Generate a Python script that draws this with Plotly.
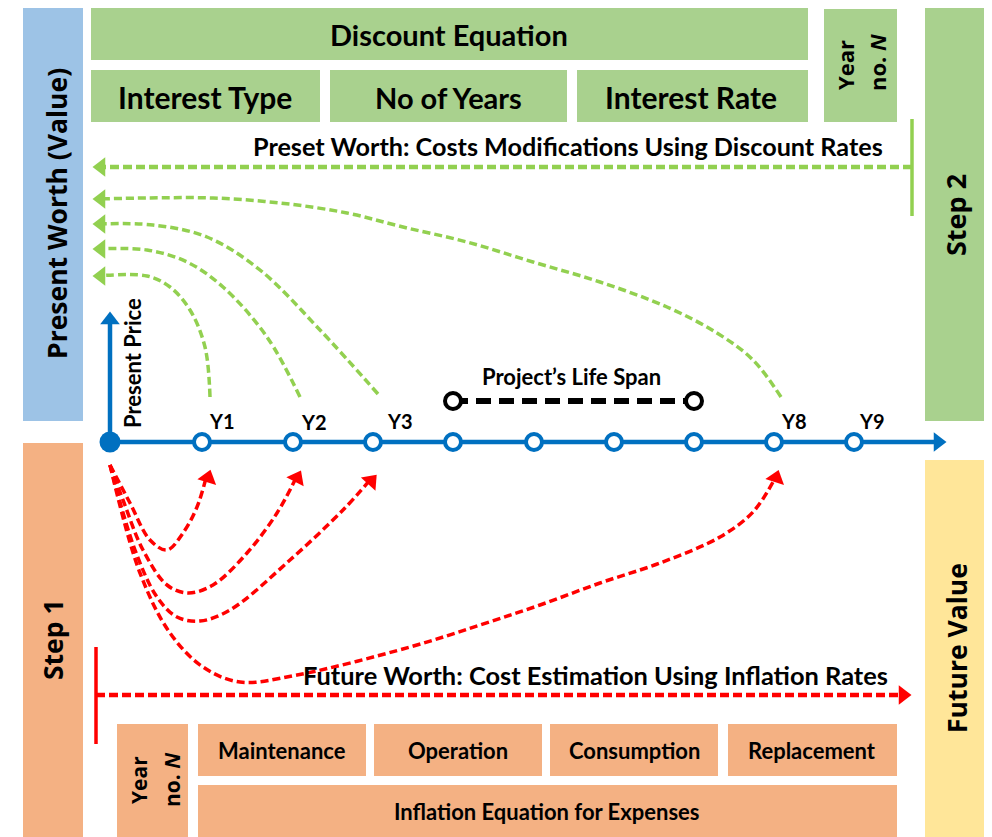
# %%
import plotly.graph_objects as go

# %% DATA
top_boxes = ['Discount Equation', 'Interest Type', 'No of Years', 'Interest Rate']
bottom_boxes = ['Maintenance', 'Operation', 'Consumption', 'Replacement', 'Inflation Equation for Expenses']
year_labels = ['Y1', 'Y2', 'Y3', 'Y8', 'Y9']

timeline_x = [202, 293, 373, 453, 534, 614, 694, 774, 854]

green_y1_x = [210, 205, 190, 170, 147, 97]
green_y1_y = [397, 347, 310, 287, 276, 276]
green_y2_x = [300, 267, 223, 187, 147, 97]
green_y2_y = [397, 337, 287, 262, 250, 249]
green_y3_x = [378, 320, 260, 207, 153, 97]
green_y3_y = [394, 330, 270, 237, 225, 224]
green_y8_x = [781, 753, 717, 667, 600, 533, 467, 403, 347, 280, 213, 147, 97]
green_y8_y = [397, 360, 333, 307, 282, 262, 242, 227, 213, 203, 198, 198, 199]

red_y1_x = [110, 130, 150, 167, 183, 197, 206]
red_y1_y = [465, 503, 540, 550, 533, 507, 478]
red_y2_x = [110, 123, 143, 167, 188, 213, 247, 277, 296]
red_y2_y = [465, 500, 550, 585, 593, 585, 553, 513, 478]
red_y3_x = [110, 135, 157, 177, 200, 230, 290, 343, 370]
red_y3_y = [465, 550, 597, 617, 621, 610, 560, 510, 480]
red_y8_x = [110, 140, 170, 203, 240, 297, 410, 480, 540, 600, 660, 720, 753, 773]
red_y8_y = [465, 573, 633, 667, 682, 675, 647, 625, 605, 583, 563, 537, 512, 482]

GREEN_BOX = '#A9D18E'
BLUE_BOX = '#9DC3E6'
ORANGE_BOX = '#F4B183'
YELLOW_BOX = '#FFE699'
LINE_BLUE = '#0070C0'
LINE_GREEN = '#92D050'
LINE_RED = '#FF0000'

fig = go.Figure()


def box(x0, y0, x1, y1, color):
    fig.add_shape(type='rect', x0=x0, y0=y0, x1=x1, y1=y1, fillcolor=color, line_width=0, layer='below')


def label(x, y, text, size, angle=0, family='Lato'):
    fig.add_annotation(x=x, y=y, text='<b>' + text + '</b>', textangle=angle, showarrow=False,
                       font=dict(family=family, size=size, color='black'))


def curve(xs, ys, color, width=3.5, dash='8px,4px', shape='spline'):
    fig.add_trace(go.Scatter(x=xs, y=ys, mode='lines', hoverinfo='skip',
                             line=dict(color=color, width=width, dash=dash, shape=shape, smoothing=1)))


def head(x, y, angle, color, size=17):
    fig.add_trace(go.Scatter(x=[x], y=[y], mode='markers', hoverinfo='skip',
                             marker=dict(symbol='triangle-up', size=size, angle=angle, color=color, line_width=0)))


# %% BOXES
box(23, 8, 83, 421, BLUE_BOX)
box(925, 8, 985, 421, GREEN_BOX)
box(23, 443, 83, 837, ORANGE_BOX)
box(925, 460, 985, 837, YELLOW_BOX)

box(91, 8, 808, 60, GREEN_BOX)
box(91, 70, 320, 122, GREEN_BOX)
box(330, 70, 567, 122, GREEN_BOX)
box(577, 70, 808, 122, GREEN_BOX)
box(824, 9, 897, 122, GREEN_BOX)

box(117, 724, 188, 837, ORANGE_BOX)
box(198, 724, 366, 776, ORANGE_BOX)
box(374, 724, 542, 776, ORANGE_BOX)
box(550, 724, 718, 776, ORANGE_BOX)
box(728, 724, 897, 776, ORANGE_BOX)
box(198, 785, 897, 837, ORANGE_BOX)

# %% BOX TEXT
label(449, 34, top_boxes[0], 29)
label(205, 97, top_boxes[1], 30)
label(448, 97, top_boxes[2], 29)
label(691, 97, top_boxes[3], 30)
label(845, 65, 'Year', 22, -90, 'Open Sans')
label(877, 63, 'no. <i>N</i>', 22, -90, 'Open Sans')

label(282, 750, bottom_boxes[0], 22)
label(458, 750, bottom_boxes[1], 22)
label(634, 750, bottom_boxes[2], 22)
label(812, 750, bottom_boxes[3], 22)
label(547, 811, bottom_boxes[4], 22)
label(139, 780, 'Year', 21, -90, 'Open Sans')
label(172, 780, 'no. <i>N</i>', 21, -90, 'Open Sans')

label(57, 214, 'Present Worth (Value)', 26.5, -90, 'Open Sans')
label(955, 215, 'Step 2', 27, -90, 'Open Sans')
label(53, 640, 'Step 1', 26.5, -90, 'Open Sans')
label(957, 648, 'Future Value', 26.5, -90, 'Open Sans')

# %% GREEN SIDE
curve([912, 912], [119, 216], LINE_GREEN, dash='solid', shape='linear')
curve([912, 100], [167, 167], LINE_GREEN, width=4.5, dash='9px,4px', shape='linear')
head(101, 167, -90, LINE_GREEN)
curve(green_y1_x, green_y1_y, LINE_GREEN)
curve(green_y2_x, green_y2_y, LINE_GREEN)
curve(green_y3_x, green_y3_y, LINE_GREEN)
curve(green_y8_x, green_y8_y, LINE_GREEN)
head(101, 276, -90, LINE_GREEN)
head(101, 249, -90, LINE_GREEN)
head(101, 224, -90, LINE_GREEN)
head(101, 199, -90, LINE_GREEN)
label(568, 146, 'Preset Worth: Costs Modifications Using Discount Rates', 25.2)

# %% RED SIDE
curve([96, 96], [647, 744], LINE_RED, dash='solid', shape='linear')
curve([96, 903], [695, 695], LINE_RED, width=4.5, dash='9px,4px', shape='linear')
head(903, 695, 90, LINE_RED)
curve(red_y1_x, red_y1_y, LINE_RED)
curve(red_y2_x, red_y2_y, LINE_RED)
curve(red_y3_x, red_y3_y, LINE_RED)
curve(red_y8_x, red_y8_y, LINE_RED)
head(208, 478, 17, LINE_RED)
head(297, 478, 28, LINE_RED)
head(371, 481, 42, LINE_RED)
head(776, 478, 18, LINE_RED)
label(595, 675, 'Future Worth: Cost Estimation Using Inflation Rates', 25.4)

# %% TIMELINE
curve([110, 938], [442, 442], LINE_BLUE, width=4.5, dash='solid', shape='linear')
head(938, 442, 90, LINE_BLUE)
curve([110, 110], [442, 320], LINE_BLUE, width=4.5, dash='solid', shape='linear')
head(110, 320, 0, LINE_BLUE)
fig.add_trace(go.Scatter(x=[110], y=[442], mode='markers', hoverinfo='skip',
                         marker=dict(size=21, color=LINE_BLUE)))
fig.add_trace(go.Scatter(x=timeline_x, y=[442] * len(timeline_x), mode='markers', hoverinfo='skip',
                         marker=dict(size=16, color='white', line=dict(color=LINE_BLUE, width=4))))
label(222, 421, year_labels[0], 20)
label(314, 422, year_labels[1], 20)
label(400, 421, year_labels[2], 20)
label(794, 421, year_labels[3], 20)
label(872, 421, year_labels[4], 20)
label(132, 363, 'Present Price', 22, -90)

curve([453, 694], [401, 401], 'black', width=6, dash='15px,8px', shape='linear')
fig.add_trace(go.Scatter(x=[453, 694], y=[401, 401], mode='markers', hoverinfo='skip',
                         marker=dict(size=16, color='white', line=dict(color='black', width=4))))
label(571, 376, 'Project’s Life Span', 22)

# %% LAYOUT
# the page keeps its 8px body margin, so the plot starts at 8,8 in the window
fig.update_xaxes(range=[8, 992], visible=False, fixedrange=True)
fig.update_yaxes(range=[837, 8], visible=False, fixedrange=True)
fig.update_layout(
    width=984,
    height=829,
    margin=dict(l=0, r=0, t=0, b=0),
    plot_bgcolor='white',
    paper_bgcolor='white',
    showlegend=False,
)

fig.write_html('out.html')
